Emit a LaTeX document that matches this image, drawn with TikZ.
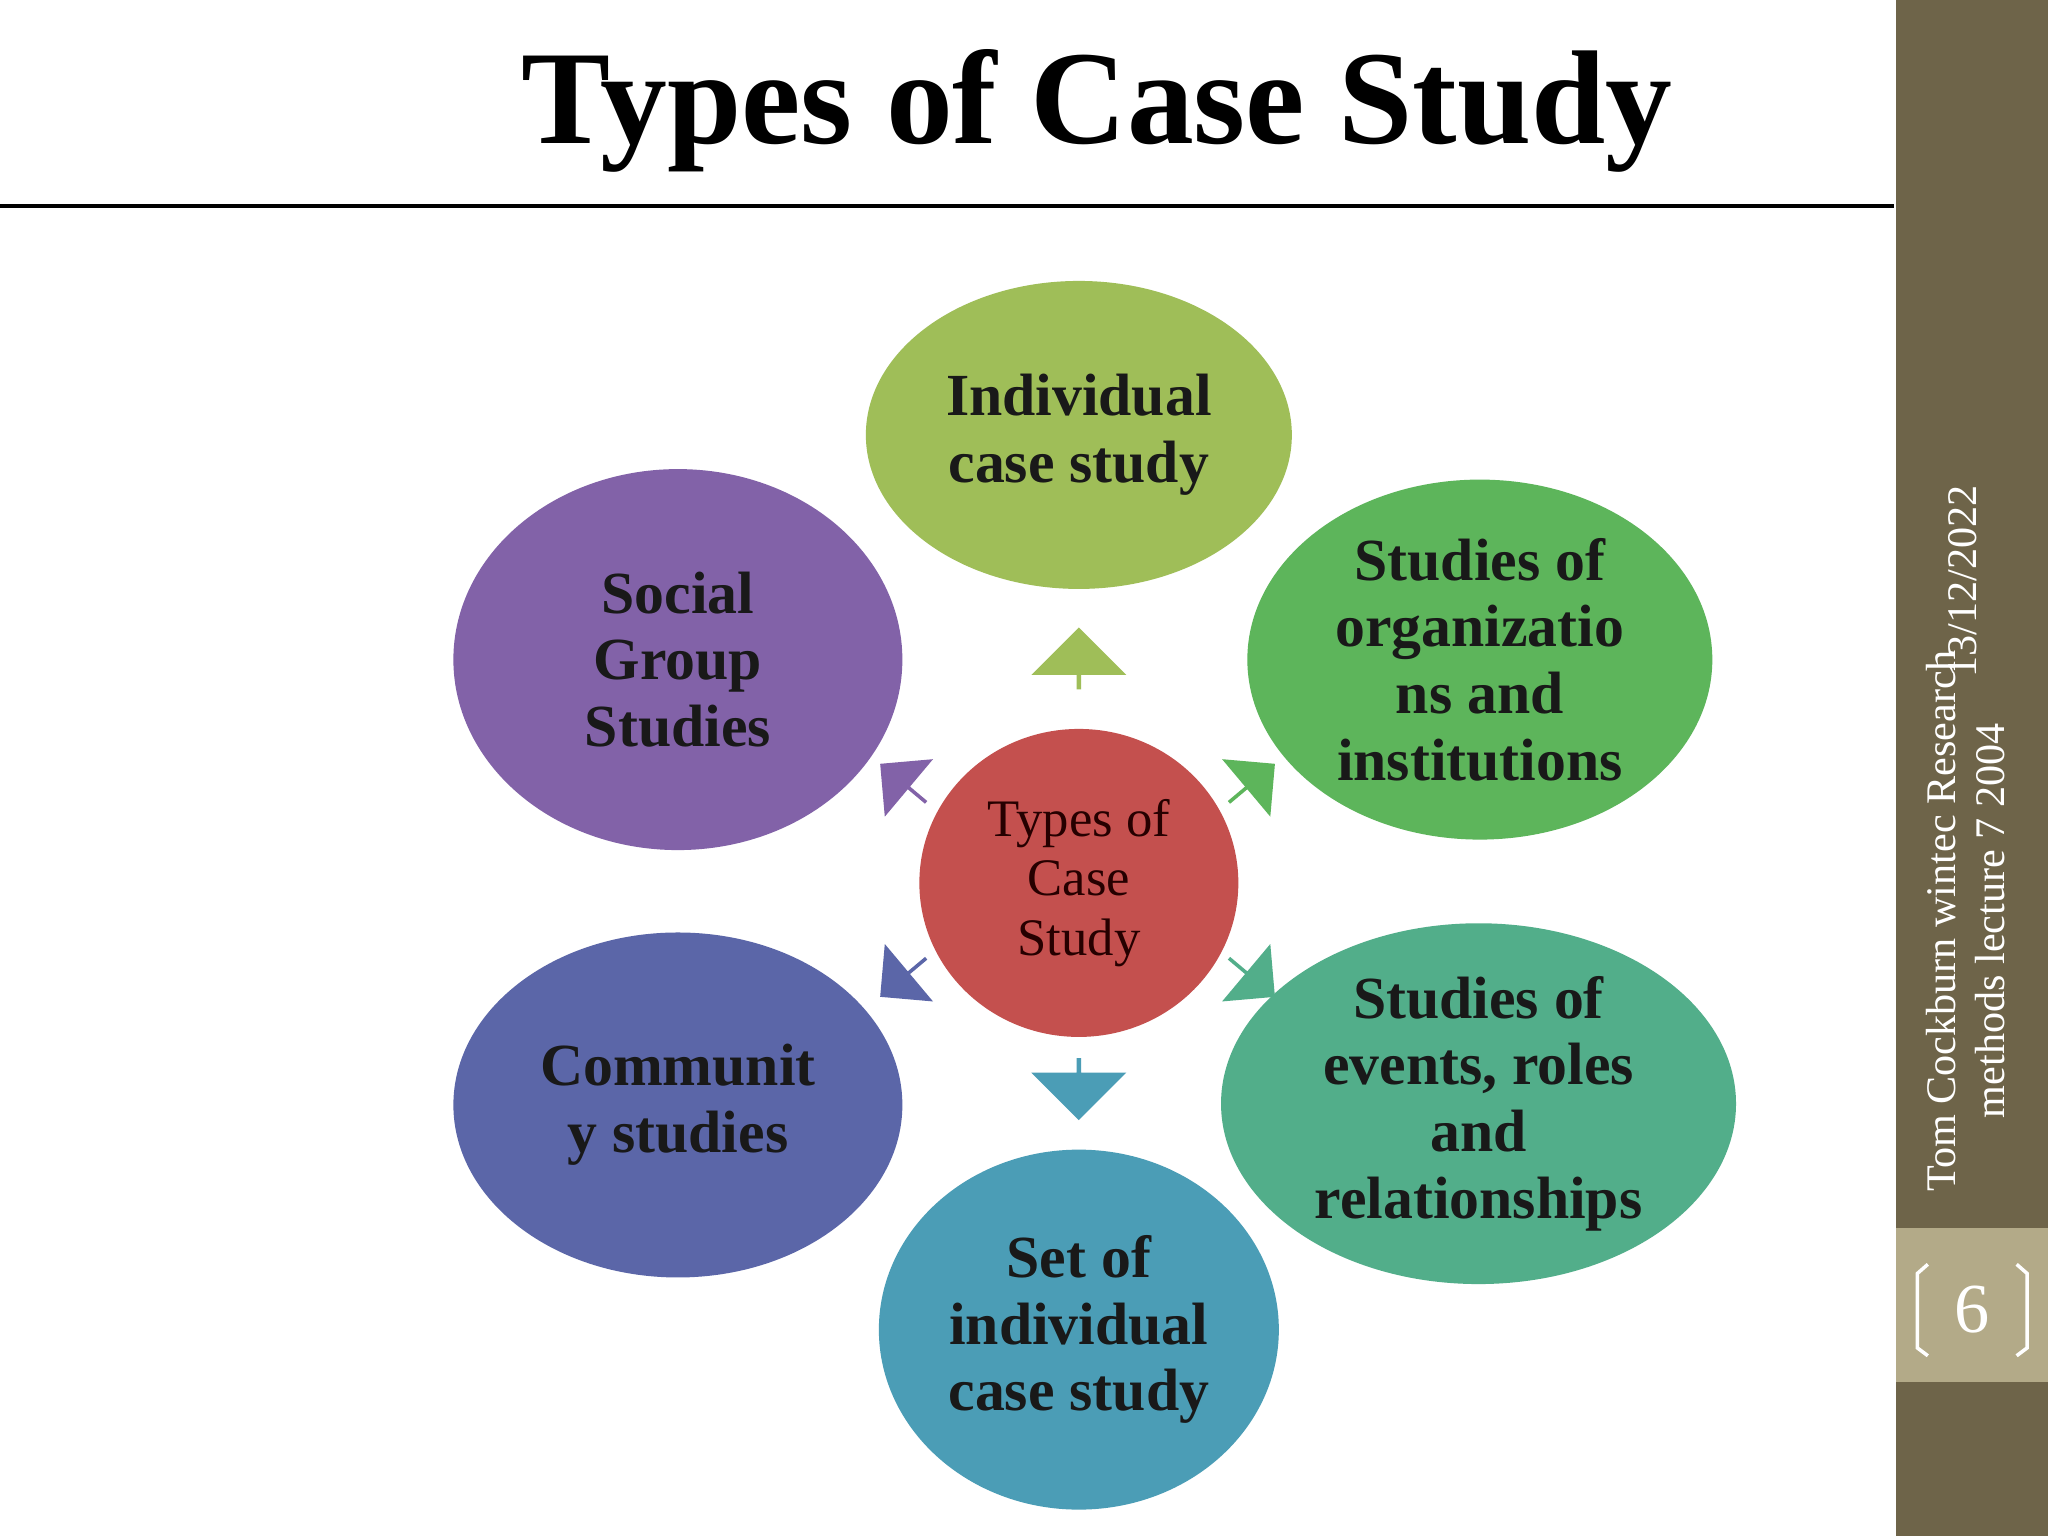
\documentclass[tikz,border=0pt]{standalone}
\usepackage{fontspec}
\setmainfont{Liberation Serif}
\usetikzlibrary{shapes.geometric,shapes.arrows}
\definecolor{side}{HTML}{6E6449}
\definecolor{sidelt}{HTML}{B3AA88}
\definecolor{cA}{HTML}{9FBE58}
\definecolor{cB}{HTML}{5DB55B}
\definecolor{cC}{HTML}{52AE8A}
\definecolor{cD}{HTML}{4B9DB6}
\definecolor{cE}{HTML}{5B66A8}
\definecolor{cF}{HTML}{8262A8}
\definecolor{cR}{HTML}{C4504E}
\tikzset{
  bub/.style={ellipse,inner sep=0pt,align=center,font=\fontsize{17}{19}\selectfont\bfseries,text=black!90},
  arr/.style={single arrow,draw=none,minimum height=0.62cm,minimum width=0.95cm,single arrow head extend=0.2cm,inner sep=0pt,shape border uses incircle},
}
\begin{document}
\begin{tikzpicture}[x=0.01306cm,y=-0.01306cm]
\useasboundingbox (0,0) rectangle (1568,1176);
\fill[white] (0,0) rectangle (1568,1176);
\fill[side] (1452,0) rectangle (1568,1176);
\fill[sidelt] (1452,940) rectangle (1568,1058);
\node[font=\fontsize{38}{40}\selectfont\bfseries] (title) at (840,85) {Types of Case Study};
\draw[line width=1.2pt] (0,158) -- (1450,158);
\node[rotate=90,text=white,font=\fontsize{12}{13}\selectfont] (date) at (1503,445) {13/12/2022};
\node[rotate=90,text=white,align=center,font=\fontsize{12}{14}\selectfont] (auth) at (1505,705) {Tom Cockburn wintec Research\\methods lecture 7 2004};
\node[text=white,font=\fontsize{20}{22}\selectfont] (pg) at (1510,1003) {6};
\draw[white,line width=1pt] (1476,968) to[out=200,in=160,looseness=0] (1468,975) -- (1468,1032) -- (1476,1038);
\draw[white,line width=1pt] (1544,968) -- (1552,975) -- (1552,1032) -- (1544,1038);

\node[bub,fill=cA,minimum width=4.26cm,minimum height=3.08cm] (top) at (826,333) {Individual\\case study};
\node[bub,fill=cB,minimum width=4.65cm,minimum height=3.60cm] (tr) at (1133,505) {Studies of\\organizatio\\ns and\\institutions};
\node[bub,fill=cC,minimum width=5.15cm,minimum height=3.47cm] (br) at (1132,845) {Studies of\\events, roles\\and\\relationships};
\node[bub,fill=cD,minimum width=4.00cm,minimum height=3.60cm] (bot) at (826,1018) {Set of\\individual\\case study};
\node[bub,fill=cE,minimum width=4.49cm,minimum height=3.45cm] (bl) at (519,846) {Communit\\y studies};
\node[bub,fill=cF,minimum width=4.49cm,minimum height=3.81cm] (tl) at (519,505) {Social\\Group\\Studies};
\node[ellipse,inner sep=0pt,fill=cR,minimum width=3.19cm,minimum height=3.08cm,align=center,text=black!85!red,font=\fontsize{15}{17}\selectfont] (c) at (826,676) {Types of\\Case\\Study};

\node[arr,fill=cA,rotate=90] (a1) at (826,505) {};
\node[arr,fill=cB,rotate=40,minimum width=0.75cm,minimum height=0.6cm] (a2) at (958,600) {};
\node[arr,fill=cC,rotate=-40,minimum width=0.75cm,minimum height=0.6cm] (a3) at (958,748) {};
\node[arr,fill=cD,rotate=-90] (a4) at (826,833) {};
\node[arr,fill=cE,rotate=220,minimum width=0.75cm,minimum height=0.6cm] (a5) at (692,748) {};
\node[arr,fill=cF,rotate=140,minimum width=0.75cm,minimum height=0.6cm] (a6) at (692,600) {};
\end{tikzpicture}
\end{document}
